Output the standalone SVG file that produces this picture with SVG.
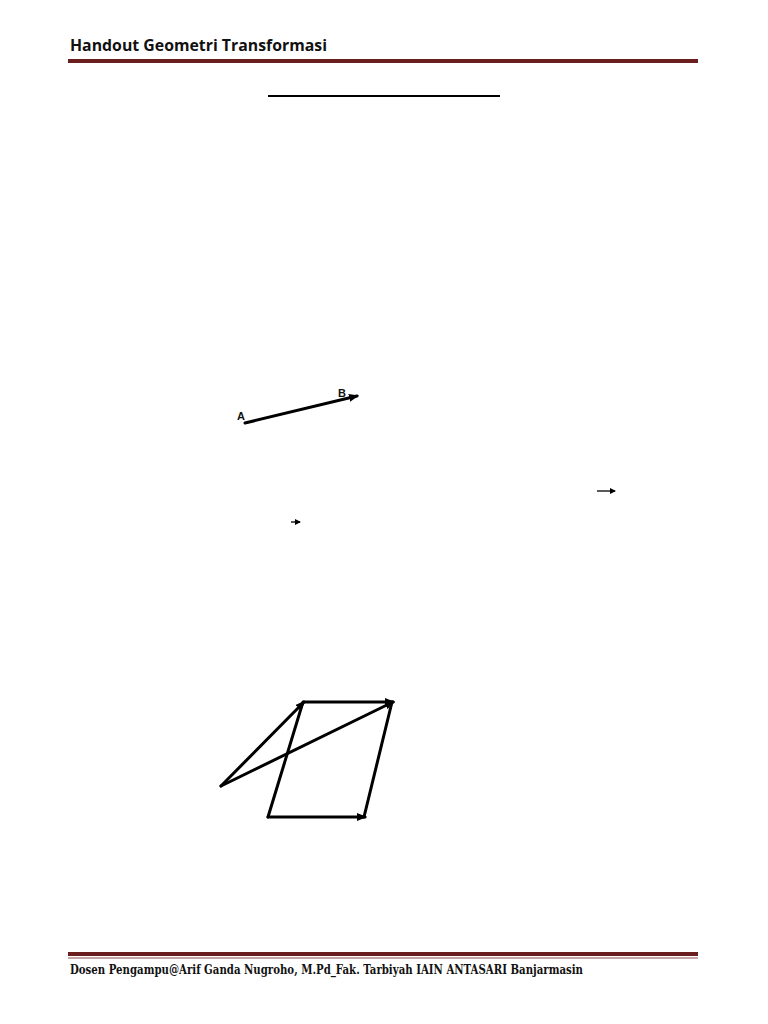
<svg xmlns="http://www.w3.org/2000/svg" width="768" height="1024" viewBox="0 0 768 1024">
<style>
.hdr{font-family:"Open Sans","Liberation Sans",sans-serif;font-weight:bold;font-size:16px;fill:#111}
.ftr{font-family:"DejaVu Serif","Liberation Serif",serif;font-weight:bold;font-size:12.5px;fill:#111}
.lbl{font-family:"Liberation Sans",sans-serif;font-weight:bold;font-size:11px;fill:#111}
.v{stroke:#000;stroke-width:3;fill:none;stroke-linecap:round}
.vs{stroke:#000;stroke-width:1.3;fill:none}
</style>
<defs>
<marker id="ah" markerWidth="10" markerHeight="8" refX="8" refY="4" orient="auto" markerUnits="userSpaceOnUse">
<path d="M0,0 L10,4 L0,8 Z" fill="#000"/>
</marker>
<marker id="ahs" markerWidth="6" markerHeight="6" refX="5" refY="3" orient="auto" markerUnits="userSpaceOnUse">
<path d="M0,0 L6,3 L0,6 Z" fill="#000"/>
</marker>
</defs>
<rect width="768" height="1024" fill="#fff"/>
<g id="header">
<text class="hdr" x="70" y="51" textLength="257" lengthAdjust="spacingAndGlyphs">Handout Geometri Transformasi</text>
<rect x="68" y="59" width="630" height="4" fill="#6b1e1e"/>
<line x1="268" y1="96" x2="500" y2="96" stroke="#000" stroke-width="2"/>
</g>
<g id="vectorAB">
<text class="lbl" x="237" y="420">A</text>
<text class="lbl" x="338" y="397">B</text>
</g>
<g id="smallArrows">
<line class="vs" x1="597" y1="491" x2="615" y2="491" marker-end="url(#ahs)"/>
<line class="vs" x1="291" y1="522" x2="300" y2="522" marker-end="url(#ahs)"/>
</g>
<g id="connectors">
<line class="v" x1="245" y1="423" x2="357" y2="396" marker-end="url(#ah)"/>
<line class="v" x1="221" y1="786" x2="304" y2="702" marker-end="url(#ah)"/>
<line class="v" x1="304" y1="702" x2="393" y2="702" marker-end="url(#ah)"/>
<line class="v" x1="221" y1="786" x2="393" y2="702" marker-end="url(#ah)"/>
<line class="v" x1="268" y1="817" x2="303" y2="702"/>
<line class="v" x1="268" y1="817" x2="365" y2="817" marker-end="url(#ah)"/>
<line class="v" x1="364" y1="817" x2="392" y2="702"/>
</g>
<g id="footer">
<rect x="68" y="952" width="630" height="4" fill="#6b1e1e"/>
<line x1="68" y1="958" x2="698" y2="958" stroke="#6b1e1e" stroke-width="0.8"/>
<text class="ftr" x="70" y="974" textLength="513" lengthAdjust="spacingAndGlyphs">Dosen Pengampu@Arif Ganda Nugroho, M.Pd_Fak. Tarbiyah IAIN ANTASARI Banjarmasin</text>
</g>
</svg>
